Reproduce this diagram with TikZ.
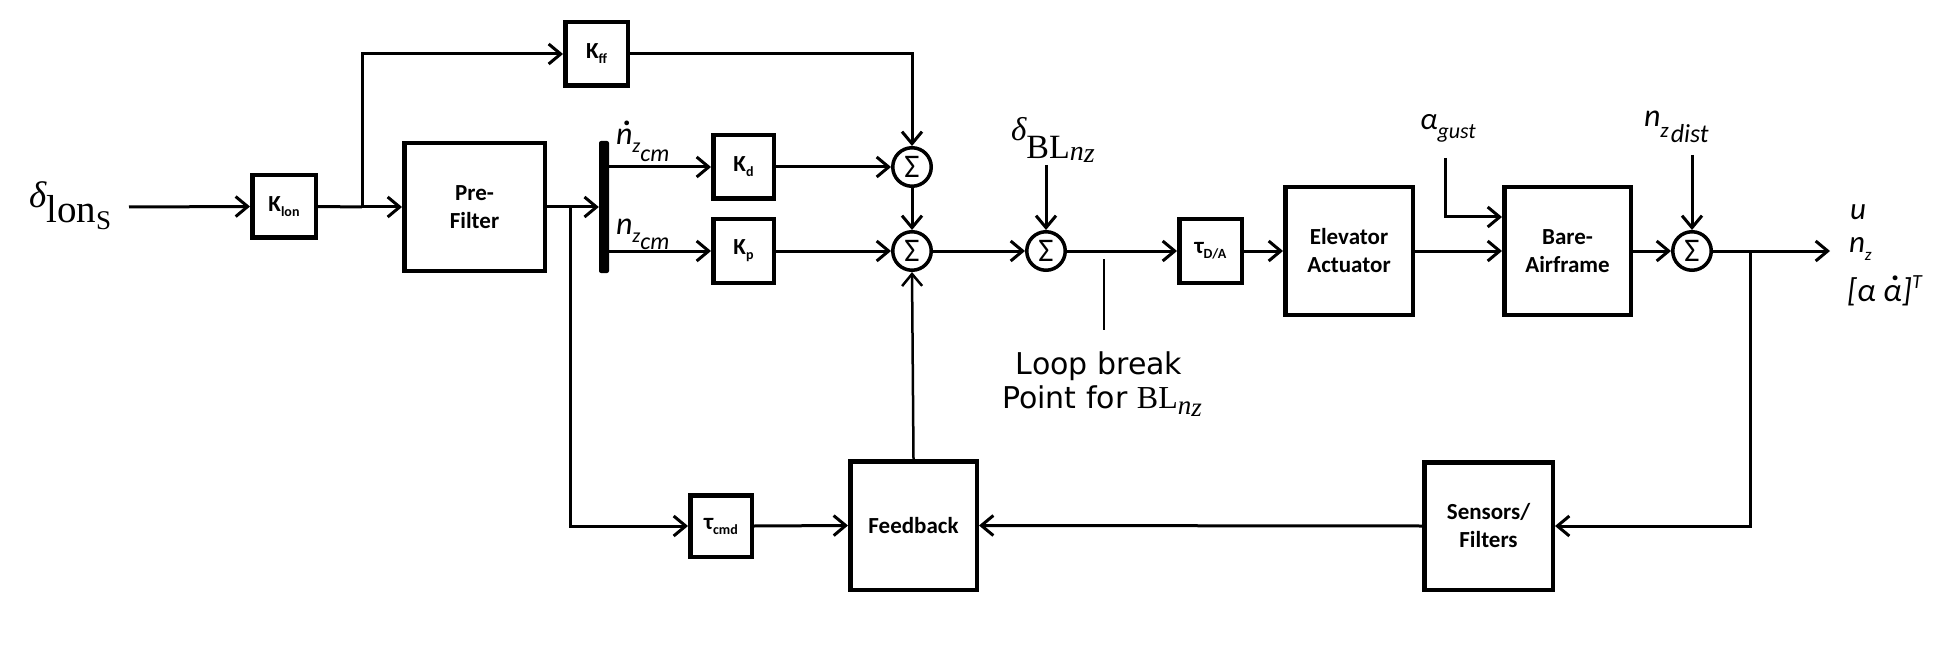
\documentclass[tikz,border=0pt]{standalone}
\usepackage[no-math]{fontspec}
\setmainfont{Carlito}
\newfontfamily\dvs{DejaVu Sans}
\newfontfamily\lser{Liberation Serif}
\usetikzlibrary{arrows.meta}
\newcommand{\gsub}[2]{#1\raisebox{-5pt}{\fontsize{14}{14}\selectfont #2}}
\newcommand{\dotover}[1]{\setbox0\hbox{#1}\hbox to \wd0{\hss\kern0.2em\raisebox{0.62em}{\bfseries.}\hss}\kern-\wd0\box0}
\newcommand{\fs}[1]{\fontsize{#1}{#1}\selectfont}
\begin{document}
\begin{tikzpicture}[x=1pt,y=-1pt,
  >={Straight Barb[length=12pt,width=20pt]},
  blk/.style={draw, line width=4.5pt, inner sep=0pt, align=center,
    font=\fontsize{23}{28}\selectfont\bfseries},
  sumnode/.style={circle, draw, line width=3.5pt, minimum size=38.5pt, inner sep=0pt,
    font=\fontsize{33}{33}\selectfont},
  conn/.style={line width=3pt, ->},
  wire/.style={line width=3pt},
  lbl/.style={anchor=base west, inner sep=0pt, outer sep=0pt}]
\useasboundingbox (0,0) rectangle (1949,647);
% blocks
\node[blk, minimum width=63.5pt, minimum height=62.5pt] (klon) at (284,206.5) {\gsub{K}{lon}};
\node[blk, minimum width=62.5pt, minimum height=63.5pt] (kff) at (596.5,54) {\gsub{K}{ff}};
\node[blk, minimum width=140.5pt, minimum height=127.5pt] (pre) at (474.5,207) {Pre-\\Filter};
\node[fill, minimum width=10pt, minimum height=132pt, inner sep=0pt, rounded corners=2pt] (bar) at (604,207) {};
\node[blk, minimum width=60.5pt, minimum height=63.5pt] (kd) at (743.5,167) {\gsub{K}{d}};
\node[blk, minimum width=60.5pt, minimum height=63.5pt] (kp) at (743.5,251) {\gsub{K}{p}};
\node[sumnode] (s1) at (912,167) {Σ};
\node[sumnode] (s2) at (912,251) {Σ};
\node[sumnode] (s3) at (1046,251) {Σ};
\node[blk, minimum width=62.5pt, minimum height=63.5pt] (tda) at (1210.5,251) {\gsub{τ}{D/A}};
\node[blk, minimum width=127.5pt, minimum height=127.5pt] (elev) at (1349,251) {Elevator\\Actuator};
\node[blk, minimum width=126.5pt, minimum height=127.5pt] (bare) at (1567.5,251) {Bare-\\Airframe};
\node[sumnode] (s4) at (1692,251) {Σ};
\node[blk, minimum width=126.5pt, minimum height=128.5pt] (fb) at (913.5,525.5) {Feedback};
\node[blk, minimum width=128.5pt, minimum height=127.5pt] (sens) at (1488.5,526) {Sensors/\\Filters};
\node[blk, minimum width=61.5pt, minimum height=61.5pt] (tcmd) at (721,526) {\gsub{τ}{cmd}};
% labels
\node[lbl] (dlon) at (29,208) {\lser\fs{37}\itshape δ\raisebox{-14pt}{\upshape\fs{39}lon\raisebox{-7pt}{\fs{27}S}}};
\node[lbl] (dbl) at (1011,141) {\lser\fs{33}\itshape δ\raisebox{-18pt}{\upshape\fs{34}BL\raisebox{-2pt}{\itshape\fs{28}n\raisebox{-2pt}{z}}}};
\node[lbl] (ndot) at (616,145) {\itshape\fs{32}\dotover{n}\raisebox{-8pt}{\fs{20}z\raisebox{-9pt}{\fs{24}cm}}};
\node[lbl] (ncm) at (616,235) {\itshape\fs{32}n\raisebox{-8pt}{\fs{20}z\raisebox{-7pt}{\fs{24}cm}}};
\node[lbl] (agl) at (1420,130) {\itshape\fs{31}α\raisebox{-9pt}{\fs{22}gust}};
\node[lbl] (nzl) at (1644,127) {\itshape\fs{32}n\raisebox{-11pt}{\fs{21}z\kern2pt\raisebox{-5pt}{\fs{26}dist}}};
\node[lbl] (ou) at (1850,219) {\itshape\fs{31}u};
\node[lbl] (onz) at (1849,252) {\itshape\fs{31}n\raisebox{-9pt}{\fs{17}z}};
\node[lbl] (oaa) at (1847,301) {\itshape\fs{33}[α \dotover{α}]\raisebox{13pt}{\fs{20}T}};
\node[anchor=base, inner sep=0pt, font=\dvs\fs{30}] (lbk1) at (1099,374) {Loop break};
\node[anchor=base, inner sep=0pt, font=\dvs\fs{30}] (lbk2) at (1102,408)
  {Point for {\lser\fs{32}BL\raisebox{-6pt}{\itshape\fs{27}n\raisebox{-2pt}{z}}}};
% coordinates
\coordinate (in) at (129,207);
\coordinate (b1) at (362,207);
\coordinate (b2) at (570,207);
\coordinate (dblin) at (1046,165);
\coordinate (lb1) at (1104,259);
\coordinate (lb2) at (1104,330);
\coordinate (ag) at (1445,158);
\coordinate (nzd) at (1692,155);
\coordinate (b3) at (1750,251);
\coordinate (out) at (1830,251);
% connectors
\draw[conn] (in) -- (klon.west);
\draw[wire] (klon.east) -- (b1);
\draw[conn] (b1) -- (pre.west);
\draw[conn] (b1) |- (kff.west);
\draw[conn] (kff.east) -| (s1.north);
\draw[conn] (pre.east) -- (bar.west);
\draw[conn] (b2) |- (tcmd.west);
\draw[conn] (tcmd.east) -- (fb.west);
\draw[conn] (bar.east |- kd.west) -- (kd.west);
\draw[conn] (bar.east |- kp.west) -- (kp.west);
\draw[conn] (kd.east) -- (s1.west);
\draw[conn] (kp.east) -- (s2.west);
\draw[conn] (s1.south) -- (s2.north);
\draw[conn, line width=2.5pt] (fb.north) -- (s2.south);
\draw[conn] (s2.east) -- (s3.west);
\draw[conn] (dblin) -- (s3.north);
\draw[conn] (s3.east) -- (tda.west);
\draw[line width=2pt] (lb1) -- (lb2);
\draw[conn] (tda.east) -- (elev.west);
\draw[conn] (elev.east) -- (bare.west);
\draw[conn] (ag) |- ([yshift=34pt]bare.west);
\draw[conn] (bare.east) -- (s4.west);
\draw[conn] (nzd) -- (s4.north);
\draw[conn] (s4.east) -- (out);
\draw[conn] (b3) |- (sens.east);
\draw[conn] (sens.west) -- (fb.east);
\end{tikzpicture}
\end{document}
